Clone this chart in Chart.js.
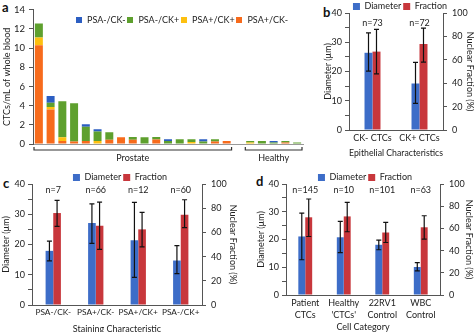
<!DOCTYPE html>
<html>
<head>
<meta charset="utf-8">
<script src="https://cdn.jsdelivr.net/npm/chart.js@4.4.1/dist/chart.umd.min.js"></script>
<style>
  html, body { margin: 0; padding: 0; background: #fff; overflow: hidden; width: 474px; height: 332px; }
  canvas { position: absolute; }
  .tag { position: absolute; font: bold 13px Lato, "Liberation Sans", sans-serif; color: #111; line-height: 13px; }
  #legend-a { position: absolute; left: 76px; top: 14px; width: 212px; height: 11px; display: flex;
    justify-content: space-between; align-items: center; font: 9px Lato, sans-serif; color: #222; z-index: 2; }
  #legend-a span.item { display: flex; align-items: center; white-space: nowrap; }
  #legend-a span.box { display: inline-block; width: 6px; height: 6px; margin-right: 5px; }
</style>
</head>
<body>
<div class="tag" style="left:2px;top:1px">a</div>
<div class="tag" style="left:323px;top:6px">b</div>
<div class="tag" style="left:3px;top:177px">c</div>
<div class="tag" style="left:256px;top:175px">d</div>
<canvas id="chart-a" width="310" height="165" style="left:0;top:0;width:310px;height:165px"></canvas>
<div id="legend-a"></div>
<canvas id="chart-b" width="164" height="165" style="left:318px;top:0;width:164px;height:165px"></canvas>
<canvas id="chart-c" width="240" height="167" style="left:0;top:171px;width:240px;height:167px"></canvas>
<canvas id="chart-d" width="230" height="164" style="left:250px;top:171px;width:230px;height:164px"></canvas>
<script>
// panel a - CTC counts per patient, stacked by staining
const aLabels = ["1","2","3","4","5","6","7","8","9","10","11","12","13","14","15","16","17","","H1","H2","H3","H4","H5"];
const aOrange = [10.3, 3.6, 0.3, 0.25, 0.3, 0, 0.45, 0.7, 0.45, 0, 0.47, 0, 0, 0, 0, 0.25, 0.3, null, 0, 0, 0, 0.15, 0];
const aYellow = [0.8, 0.25, 0.4, 0, 0, 0.3, 0, 0, 0, 0, 0, 0, 0, 0.2, 0, 0, 0, null, 0.15, 0, 0, 0, 0];
const aGreen = [1.45, 0.45, 3.75, 4.0, 1.5, 1.0, 0.78, 0, 0.27, 0.7, 0.25, 0.3, 0.5, 0.3, 0.25, 0.25, 0, null, 0.15, 0.3, 0.15, 0.15, 0.15];
const aBlue = [0, 0.7, 0, 0, 0.27, 0.25, 0, 0, 0, 0, 0, 0.2, 0, 0, 0.25, 0, 0, null, 0, 0, 0.15, 0, 0];
const aGroups = ["Prostate", "Healthy"];
const aGroupFrom = [0, 18];
const aGroupTo = [16, 22];

// panel b - epithelial characteristics
const bLabels = ["CK- CTCs", "CK+ CTCs"];
const bDiam = [26.4, 15.9];
const bDiamLow = [20.1, 9.1];
const bDiamHigh = [33.2, 23.1];
const bFrac = [67, 73.5];
const bFracLow = [48, 58];
const bFracHigh = [86, 87];
const bN = ["n=73", "n=72"];

// panel c - staining characteristic
const cLabels = ["PSA-/CK-", "PSA+/CK-", "PSA+/CK+", "PSA-/CK+"];
const cDiam = [17.9, 27.1, 21.4, 14.7];
const cDiamLow = [14.6, 20.4, 9.1, 10.4];
const cDiamHigh = [21.1, 33.4, 33.9, 19.6];
const cFrac = [76, 65.5, 62.5, 74.5];
const cFracLow = [65, 46, 48, 64];
const cFracHigh = [86.5, 85, 76.5, 87];
const cN = ["n=7", "n=66", "n=12", "n=60"];

// panel d - cell category
const dLabels = [["Patient", "CTCs"], ["Healthy", "'CTCs'"], ["22RV1", "Control"], ["WBC", "Control"]];
const dDiam = [21.1, 20.8, 18.1, 10.1];
const dDiamLow = [12.7, 15.3, 16.3, 8.7];
const dDiamHigh = [29.5, 26.5, 19.8, 11.7];
const dFrac = [70, 70.8, 56.3, 61];
const dFracLow = [52.7, 57, 47.3, 50.3];
const dFracHigh = [86.5, 83.4, 65.4, 71.4];
const dN = ["n=145", "n=10", "n=101", "n=63"];

const FONT = "Lato";
const TEXT = "#222";
const AXIS = "#555";
const BLUE = "#3D6DC8";
const RED = "#C8373C";

Chart.defaults.font.family = FONT;
Chart.defaults.font.size = 9;
Chart.defaults.color = TEXT;
Chart.defaults.animation = false;

const errorBars = {
  id: "errorBars",
  afterDatasetsDraw(chart) {
    const ctx = chart.ctx;
    ctx.save();
    ctx.strokeStyle = "#111";
    ctx.lineWidth = 1.2;
    chart.data.datasets.forEach((ds, i) => {
      if (!ds.errLow) return;
      const meta = chart.getDatasetMeta(i);
      const scale = chart.scales[meta.yAxisID];
      meta.data.forEach((bar, j) => {
        const lo = scale.getPixelForValue(ds.errLow[j]);
        const hi = scale.getPixelForValue(ds.errHigh[j]);
        ctx.beginPath();
        ctx.moveTo(bar.x, lo); ctx.lineTo(bar.x, hi);
        ctx.moveTo(bar.x - 2.5, lo); ctx.lineTo(bar.x + 2.5, lo);
        ctx.moveTo(bar.x - 2.5, hi); ctx.lineTo(bar.x + 2.5, hi);
        ctx.stroke();
      });
    });
    ctx.restore();
  }
};

const nLabels = {
  id: "nLabels",
  afterDatasetsDraw(chart, args, opts) {
    if (!opts.labels) return;
    const { ctx, chartArea, scales } = chart;
    ctx.save();
    ctx.font = "9px " + FONT;
    ctx.fillStyle = TEXT;
    ctx.textAlign = "center";
    ctx.textBaseline = "middle";
    opts.labels.forEach((t, j) => ctx.fillText(t, scales.x.getPixelForValue(j), chartArea.top + opts.offset));
    ctx.restore();
  }
};

const brackets = {
  id: "brackets",
  afterDraw(chart) {
    const { ctx, chartArea, scales } = chart;
    const half = scales.x.width / scales.x.ticks.length / 2;
    const y = chartArea.bottom + 6;
    ctx.save();
    ctx.strokeStyle = "#333";
    ctx.lineWidth = 1.2;
    ctx.font = "9px " + FONT;
    ctx.fillStyle = TEXT;
    ctx.textAlign = "center";
    ctx.textBaseline = "middle";
    aGroups.forEach((g, i) => {
      const x0 = scales.x.getPixelForValue(aGroupFrom[i]) - half + 1;
      const x1 = scales.x.getPixelForValue(aGroupTo[i]) + half - 1;
      ctx.beginPath();
      ctx.moveTo(x0, y - 3); ctx.lineTo(x0, y); ctx.lineTo(x1, y); ctx.lineTo(x1, y - 3);
      ctx.stroke();
      ctx.fillText(g, (x0 + x1) / 2, y + 8);
    });
    ctx.restore();
  }
};

// html legend for panel a, it sits inside the plot area
const htmlLegend = {
  id: "htmlLegend",
  afterUpdate(chart) {
    const box = document.getElementById("legend-a");
    box.innerHTML = "";
    const items = chart.options.plugins.legend.labels.generateLabels(chart).reverse();
    items.forEach(item => {
      const el = document.createElement("span");
      el.className = "item";
      const sw = document.createElement("span");
      sw.className = "box";
      sw.style.background = item.fillStyle;
      el.appendChild(sw);
      el.appendChild(document.createTextNode(item.text));
      box.appendChild(el);
    });
  }
};

// panel a
new Chart(document.getElementById("chart-a"), {
  type: "bar",
  data: {
    labels: aLabels,
    datasets: [
      { label: "PSA+/CK-", data: aOrange, backgroundColor: "#F76B1C" },
      { label: "PSA+/CK+", data: aYellow, backgroundColor: "#FDC010" },
      { label: "PSA-/CK+", data: aGreen, backgroundColor: "#5EA02E" },
      { label: "PSA-/CK-", data: aBlue, backgroundColor: "#2C5EC2" }
    ]
  },
  options: {
    responsive: false,
    layout: { padding: { top: 8, right: 7, bottom: 21, left: 0 } },
    datasets: { bar: { barPercentage: 0.68, categoryPercentage: 1 } },
    scales: {
      x: {
        stacked: true,
        ticks: { display: false },
        grid: { display: false, drawTicks: false },
        border: { display: true, color: "#999", width: 1 },
        afterFit: s => { s.height = 0; }
      },
      y: {
        stacked: true,
        min: 0, max: 14,
        ticks: { stepSize: 2, padding: 4, font: { size: 9.5 } },
        grid: { drawOnChartArea: false, tickLength: 4, color: AXIS },
        border: { color: AXIS },
        title: { display: true, text: "CTCs/mL of whole blood", padding: { top: 1.6 } },
        afterFit: s => { s.width = 33; }
      }
    },
    plugins: {
      tooltip: { enabled: false },
      legend: { display: false }
    }
  },
  plugins: [brackets, htmlLegend]
});

function makePanel(id, labels, diam, diamLow, diamHigh, frac, fracLow, fracHigh, nText, xTitle, g) {
  return new Chart(document.getElementById(id), {
    type: "bar",
    data: {
      labels: labels,
      datasets: [
        { label: "Diameter", data: diam, errLow: diamLow, errHigh: diamHigh, backgroundColor: BLUE, yAxisID: "y" },
        { label: "Fraction", data: frac, errLow: fracLow, errHigh: fracHigh, backgroundColor: RED, yAxisID: "y2" }
      ]
    },
    options: {
      responsive: false,
      layout: { padding: 0 },
      datasets: { bar: { barPercentage: 1, categoryPercentage: g.cat } },
      scales: {
        x: {
          ticks: { padding: g.xPad, font: { size: g.xFont, lineHeight: 1.3 }, maxRotation: 0, autoSkip: false },
          grid: { display: false, drawTicks: false },
          border: { color: AXIS },
          title: { display: true, text: xTitle, font: { size: 9 }, padding: { bottom: g.xTitlePad } },
          afterFit: s => { s.height = g.xH; }
        },
        y: {
          position: "left",
          min: 0, max: 40,
          ticks: { stepSize: 5, padding: 3, callback: v => (v % 10 === 0 ? v : "") },
          grid: { drawOnChartArea: false, tickLength: 4, color: AXIS },
          border: { color: AXIS },
          title: { display: true, text: "Diameter (μm)", padding: { top: g.yTitlePad } },
          afterFit: s => { s.width = g.yW; }
        },
        y2: {
          position: "right",
          min: 0, max: 100,
          ticks: { stepSize: 10, padding: 5, callback: v => (v % 20 === 0 ? v : "") },
          grid: { drawOnChartArea: false, tickLength: 4, color: AXIS },
          border: { color: AXIS },
          title: { display: true, text: "Nuclear Fraction (%)", padding: { top: g.y2TitlePad } },
          afterFit: s => { s.width = g.y2W; }
        }
      },
      plugins: {
        tooltip: { enabled: false },
        legend: {
          position: "top",
          maxHeight: 13,
          labels: { boxWidth: 7, boxHeight: 7, padding: 2, font: { size: 9 } }
        },
        nLabels: { labels: nText, offset: g.nOff }
      }
    },
    plugins: [errorBars, nLabels]
  });
}

makePanel("chart-b", bLabels, bDiam, bDiamLow, bDiamHigh, bFrac, bFracLow, bFracHigh, bN,
  "Epithelial Characteristics",
  { cat: 0.34, xFont: 9, xPad: 2.6, xTitlePad: 6.6, xH: 35, yW: 31, y2W: 39, yTitlePad: 4.6, y2TitlePad: 6.6, nOff: 10.3 });

makePanel("chart-c", cLabels, cDiam, cDiamLow, cDiamHigh, cFrac, cFracLow, cFracHigh, cN,
  "Staining Characteristic",
  { cat: 0.36, xFont: 8.3, xPad: 1.6, xTitlePad: 3.6, xH: 33, yW: 32, y2W: 38, yTitlePad: 0.6, y2TitlePad: 1.6, nOff: 5.7 });

makePanel("chart-d", dLabels, dDiam, dDiamLow, dDiamHigh, dFrac, dFracLow, dFracHigh, dN,
  "Cell Category",
  { cat: 0.36, xFont: 9, xPad: 2.3, xTitlePad: 2.6, xH: 40, yW: 36, y2W: 40, yTitlePad: 5.6, y2TitlePad: 5.6, nOff: 5.7 });
</script>
</body>
</html>
